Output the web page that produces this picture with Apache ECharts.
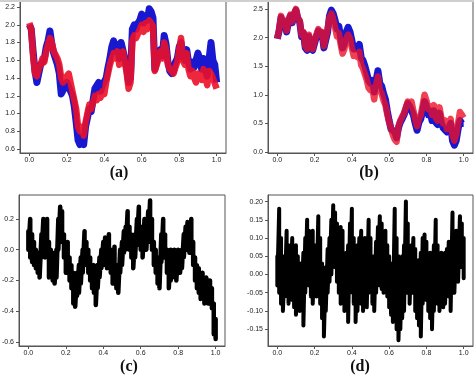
<!DOCTYPE html>
<html>
<head>
<meta charset="utf-8">
<script src="https://cdn.jsdelivr.net/npm/echarts@6/dist/echarts.min.js"></script>
<style>html,body{margin:0;padding:0;background:#fff}#c{width:474px;height:375px}</style>
</head>
<body>
<div id="c"></div>
<script>
// ---- data ----
const xs = [0,0.01,0.02,0.03,0.04,0.05,0.06,0.07,0.08,0.09,
 0.10,0.11,0.12,0.13,0.14,0.15,0.16,0.17,0.18,0.19,
 0.20,0.21,0.22,0.23,0.24,0.25,0.26,0.27,0.28,0.29,
 0.30,0.31,0.32,0.33,0.34,0.35,0.36,0.37,0.38,0.39,
 0.40,0.41,0.42,0.43,0.44,0.45,0.46,0.47,0.48,0.49,
 0.50,0.51,0.52,0.53,0.54,0.55,0.56,0.57,0.58,0.59,
 0.60,0.61,0.62,0.63,0.64,0.65,0.66,0.67,0.68,0.69,
 0.70,0.71,0.72,0.73,0.74,0.75,0.76,0.77,0.78,0.79,
 0.80,0.81,0.82,0.83,0.84,0.85,0.86,0.87,0.88,0.89,
 0.90,0.91,0.92,0.93,0.94,0.95,0.96,0.97,0.98,0.99,1.00];

// panel (a)
const aBlue = [2.00,1.95,1.70,1.48,1.35,1.45,1.55,1.58,1.62,1.75,
 1.82,1.93,1.78,1.68,1.70,1.55,1.45,1.22,1.20,1.30,
 1.35,1.30,1.30,1.20,1.08,0.90,0.70,0.65,0.68,0.65,
 0.85,0.95,1.05,1.02,1.15,1.28,1.30,1.35,1.25,1.32,
 1.30,1.40,1.52,1.62,1.75,1.82,1.70,1.78,1.62,1.80,
 1.78,1.62,1.50,1.35,1.40,1.95,2.00,1.95,2.02,2.05,
 2.12,2.02,2.10,2.05,2.18,2.15,2.08,1.50,1.58,1.68,
 1.72,1.65,1.88,1.78,1.58,1.48,1.45,1.48,1.58,1.62,
 1.75,1.80,1.65,1.60,1.72,1.58,1.50,1.58,1.52,1.60,
 1.68,1.62,1.50,1.62,1.48,1.42,1.62,1.80,1.60,1.55,
 1.35];
const aRed = [2.02,1.95,1.65,1.45,1.42,1.50,1.55,1.62,1.58,1.70,
 1.78,1.85,1.80,1.70,1.72,1.62,1.55,1.40,1.35,1.38,
 1.42,1.45,1.35,1.25,1.15,1.05,0.85,0.80,0.85,0.75,
 0.90,1.00,1.10,1.05,1.12,1.20,1.15,1.22,1.18,1.25,
 1.22,1.35,1.45,1.55,1.62,1.68,1.62,1.70,1.55,1.60,
 1.70,1.58,1.45,1.28,1.35,1.82,1.88,1.85,1.90,1.95,
 2.00,1.92,2.02,1.95,2.05,2.02,1.98,1.48,1.55,1.62,
 1.70,1.62,1.80,1.72,1.55,1.50,1.48,1.45,1.52,1.58,
 1.72,1.85,1.60,1.55,1.68,1.50,1.42,1.48,1.40,1.35,
 1.45,1.42,1.38,1.50,1.40,1.32,1.48,1.45,1.40,1.38,
 1.28];

// panel (b)
const bBlue = [1.98,2.12,2.35,2.22,2.28,2.10,2.28,2.38,2.26,2.40,
 2.48,2.33,2.28,2.02,2.08,1.82,1.78,2.02,1.82,1.78,
 1.76,2.02,2.12,2.02,2.08,1.82,1.84,2.10,2.38,2.48,
 2.42,2.30,2.15,2.20,2.00,1.82,1.90,2.10,2.18,2.10,
 1.95,1.80,1.85,1.80,1.88,1.65,1.60,1.50,1.38,1.25,
 1.20,1.25,1.05,1.25,1.42,1.20,1.15,1.02,0.92,0.72,
 0.55,0.40,0.42,0.35,0.25,0.42,0.52,0.58,0.65,0.75,
 0.85,0.80,0.82,0.65,0.50,0.38,0.52,0.58,0.72,0.88,
 0.80,0.65,0.72,0.55,0.72,0.52,0.48,0.68,0.52,0.42,
 0.45,0.35,0.40,0.50,0.20,0.12,0.20,0.40,0.55,0.50,
 0.50];
const bRed = [1.98,2.15,2.38,2.25,2.30,2.12,2.30,2.40,2.28,2.42,
 2.50,2.35,2.30,2.05,2.10,1.85,1.80,2.05,1.85,1.80,
 1.78,2.05,2.15,2.05,2.10,1.85,1.85,2.15,2.35,2.42,
 2.32,2.18,2.02,2.08,1.88,1.72,1.80,1.98,2.05,1.98,
 1.82,1.68,1.72,1.66,1.75,1.52,1.46,1.36,1.26,1.12,
 1.08,1.12,0.92,1.16,1.32,1.08,1.02,0.90,0.82,0.66,
 0.52,0.42,0.30,0.22,0.18,0.45,0.55,0.62,0.68,0.78,
 0.88,0.82,0.88,0.72,0.58,0.45,0.58,0.65,0.82,1.00,
 0.90,0.75,0.80,0.65,0.82,0.60,0.55,0.78,0.60,0.50,
 0.55,0.40,0.45,0.58,0.30,0.20,0.30,0.50,0.70,0.65,
 0.60];

// panel (c): upper and lower edge of the black band
const cHigh = [0.12,0.20,0.10,0.05,0.00,-0.02,-0.05,0.10,0.20,0.15,
 0.20,0.05,0.00,-0.02,-0.08,0.00,0.20,0.28,0.25,0.10,
 0.00,0.05,-0.05,-0.10,-0.15,-0.20,-0.15,-0.10,-0.05,0.00,
 0.12,0.05,0.00,-0.05,-0.10,-0.10,-0.15,-0.10,-0.05,0.00,
 0.05,0.08,0.05,0.10,0.00,-0.05,0.02,-0.10,-0.12,0.00,
 0.05,0.12,0.15,0.25,0.15,0.10,0.05,0.10,0.20,0.28,
 0.15,0.10,0.20,0.15,0.25,0.32,0.20,0.05,0.00,-0.05,
 -0.10,0.10,0.20,0.10,0.00,-0.05,0.00,-0.02,0.00,-0.05,
 0.00,-0.05,0.00,0.10,0.15,0.18,0.15,0.20,0.05,-0.05,
 -0.10,-0.12,-0.18,-0.15,-0.20,-0.18,-0.20,-0.20,-0.25,-0.35,
 -0.45];
const cLow = [0.00,-0.05,-0.08,-0.10,-0.12,-0.15,-0.18,-0.05,0.02,-0.05,
 0.00,-0.18,-0.15,-0.20,-0.22,-0.18,0.00,0.08,0.05,-0.05,
 -0.15,-0.15,-0.20,-0.25,-0.35,-0.37,-0.30,-0.28,-0.22,-0.15,
 -0.05,-0.10,-0.15,-0.20,-0.25,-0.28,-0.36,-0.25,-0.18,-0.12,
 -0.10,-0.08,-0.12,-0.05,-0.15,-0.22,-0.12,-0.25,-0.28,-0.15,
 -0.10,-0.02,0.00,0.05,0.00,-0.05,-0.12,-0.05,0.03,0.08,
 0.00,-0.05,0.05,0.00,0.05,0.10,0.00,-0.10,-0.15,-0.22,
 -0.25,-0.08,0.00,-0.05,-0.15,-0.25,-0.20,-0.18,-0.15,-0.20,
 -0.15,-0.15,-0.12,-0.05,0.00,0.00,-0.02,0.00,-0.10,-0.20,
 -0.25,-0.28,-0.32,-0.28,-0.35,-0.30,-0.35,-0.32,-0.38,-0.55,
 -0.58];

// panel (d): upper and lower edge of the black spikes
const dHigh = [0.05,0.18,0.10,0.05,0.03,0.12,0.08,0.07,0.10,0.07,
 0.08,0.05,0.03,0.03,0.06,0.10,0.15,0.12,0.05,0.12,
 0.08,0.04,0.16,0.10,0.03,0.00,0.02,0.07,0.10,0.15,
 0.19,0.17,0.14,0.10,0.13,0.12,0.05,0.06,0.08,0.14,
 0.18,0.10,0.05,0.08,0.10,0.12,0.09,0.10,0.07,0.15,
 0.10,0.05,0.03,0.09,0.13,0.16,0.14,0.11,0.12,0.08,
 0.05,0.03,0.02,0.18,0.10,0.05,0.02,0.05,0.08,0.20,
 0.14,0.05,0.08,0.10,0.07,0.02,0.04,0.06,0.10,0.11,
 0.09,0.05,0.06,0.03,0.08,0.15,0.08,0.04,0.06,0.05,
 0.06,0.07,0.09,0.04,0.17,0.10,0.12,0.08,0.16,0.14,
 0.10];
const dLow = [-0.03,-0.05,-0.08,-0.10,-0.06,-0.05,-0.08,-0.05,-0.07,-0.09,
 -0.11,-0.08,-0.10,-0.07,-0.14,-0.05,0.00,-0.03,-0.06,-0.08,
 -0.05,-0.06,-0.02,-0.08,-0.12,-0.17,-0.10,-0.05,-0.02,0.00,
 0.03,0.02,-0.02,-0.05,-0.08,-0.02,-0.10,-0.08,-0.13,-0.05,
 -0.01,-0.08,-0.13,-0.10,-0.06,-0.08,-0.10,-0.05,-0.09,-0.05,
 -0.04,-0.08,-0.10,-0.05,-0.02,-0.03,-0.04,-0.05,-0.03,-0.06,
 -0.09,-0.11,-0.13,-0.08,-0.15,-0.18,-0.15,-0.12,-0.10,-0.02,
 -0.05,-0.08,-0.03,-0.05,-0.10,-0.12,-0.14,-0.17,-0.08,-0.05,
 -0.07,-0.10,-0.12,-0.15,-0.10,-0.05,-0.08,-0.10,-0.08,-0.09,
 -0.08,-0.05,-0.06,-0.10,-0.02,-0.05,0.00,-0.02,0.02,0.02,
 -0.01];

// tick labels
const xTicks = [0.0,0.2,0.4,0.6,0.8,1.0];
const aTicks = [0.6,0.8,1.0,1.2,1.4,1.6,1.8,2.0,2.2];
const bTicks = [0.0,0.5,1.0,1.5,2.0,2.5];
const cTicks = [-0.6,-0.4,-0.2,0.0,0.2];
const dTicks = [-0.15,-0.10,-0.05,0.00,0.05,0.10,0.15,0.20];
const panelLabels = ['(a)','(b)','(c)','(d)'];

// ---- build chart ----
const pairs = (arr) => xs.map((x, i) => [x, arr[i]]);
const band = (hi, lo) => xs.flatMap((x, i) => [[x, hi[i]], [x, lo[i]]]);

const axisColor = '#555';
const labelStyle = {fontSize: 7, color: '#222', fontFamily: 'Liberation Sans'};

function xAxis(g) {
  return {
    type: 'value', gridIndex: g, min: -0.05, max: 1.05,
    axisLine: {show: true, onZero: false, lineStyle: {color: axisColor, width: 1}},
    splitLine: {show: false},
    axisTick: {show: true, length: 3, lineStyle: {color: axisColor}, customValues: xTicks},
    axisLabel: Object.assign({margin: 4, hideOverlap: false, customValues: xTicks, formatter: v => v.toFixed(1)}, labelStyle)
  };
}
function yAxis(g, min, max, ticks, dec) {
  return {
    type: 'value', gridIndex: g, min: min, max: max,
    axisLine: {show: true, onZero: false, lineStyle: {color: axisColor, width: 1}},
    splitLine: {show: false},
    axisTick: {show: true, length: 3, lineStyle: {color: axisColor}, customValues: ticks},
    axisLabel: Object.assign({margin: 5, hideOverlap: false, customValues: ticks, formatter: v => v.toFixed(dec)}, labelStyle)
  };
}
const gridBase = {show: true, borderColor: axisColor, borderWidth: 1, backgroundColor: 'transparent', outerBoundsMode: 'none', containLabel: false};

const chart = echarts.init(document.getElementById('c'), null, {renderer: 'canvas'});
chart.setOption({
  animation: false,
  backgroundColor: '#fff',
  grid: [
    Object.assign({left: 20, top: 0, width: 206, height: 153}, gridBase),
    Object.assign({left: 268, top: 0, width: 205, height: 153}, gridBase),
    Object.assign({left: 19, top: 195, width: 206, height: 151}, gridBase),
    Object.assign({left: 268, top: 195, width: 205, height: 151}, gridBase)
  ],
  xAxis: [xAxis(0), xAxis(1), xAxis(2), xAxis(3)],
  yAxis: [
    yAxis(0, 0.555, 2.279, aTicks, 1),
    yAxis(1, -0.0175, 2.657, bTicks, 1),
    yAxis(2, -0.626, 0.356, cTicks, 1),
    yAxis(3, -0.196, 0.218, dTicks, 2)
  ],
  series: [
    {type: 'line', xAxisIndex: 0, yAxisIndex: 0, data: pairs(aBlue), showSymbol: false,
     lineStyle: {color: '#1818d0', width: 7, join: 'round'}},
    {type: 'line', xAxisIndex: 0, yAxisIndex: 0, data: pairs(aRed), showSymbol: false,
     lineStyle: {color: '#ec1028', width: 6.5, opacity: 0.9, join: 'round'}},
    {type: 'line', xAxisIndex: 1, yAxisIndex: 1, data: pairs(bBlue), showSymbol: false,
     lineStyle: {color: '#1818d0', width: 7, join: 'round'}},
    {type: 'line', xAxisIndex: 1, yAxisIndex: 1, data: pairs(bRed), showSymbol: false,
     lineStyle: {color: '#ec1028', width: 6.5, opacity: 0.8, join: 'round'}},
    {type: 'line', xAxisIndex: 2, yAxisIndex: 2, data: band(cHigh, cLow), showSymbol: false,
     lineStyle: {color: '#000', width: 4.5, join: 'round', cap: 'round'}},
    {type: 'line', xAxisIndex: 3, yAxisIndex: 3, data: band(dHigh, dLow), showSymbol: false,
     lineStyle: {color: '#000', width: 4, join: 'round', cap: 'round'}}
  ],
  graphic: [
    {type: 'rect', left: 0, top: 0, shape: {width: 474, height: 2}, style: {fill: '#cfcfcf'}, z: 100},
    {type: 'text', x: 119, y: 173, style: {text: panelLabels[0], font: 'bold 16px "Liberation Serif"', fill: '#111', align: 'center', verticalAlign: 'middle'}},
    {type: 'text', x: 369, y: 173, style: {text: panelLabels[1], font: 'bold 16px "Liberation Serif"', fill: '#111', align: 'center', verticalAlign: 'middle'}},
    {type: 'text', x: 129, y: 367, style: {text: panelLabels[2], font: 'bold 16px "Liberation Serif"', fill: '#111', align: 'center', verticalAlign: 'middle'}},
    {type: 'text', x: 360, y: 367, style: {text: panelLabels[3], font: 'bold 16px "Liberation Serif"', fill: '#111', align: 'center', verticalAlign: 'middle'}}
  ]
});
</script>
</body>
</html>
